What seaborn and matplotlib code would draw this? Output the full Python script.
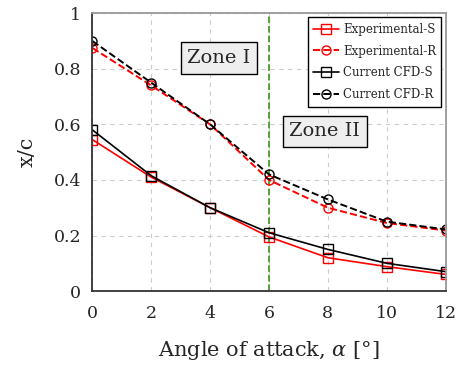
import matplotlib
matplotlib.use("Agg")
import matplotlib.pyplot as plt
import seaborn as sns
import numpy as np
import pandas as pd
from matplotlib.ticker import MultipleLocator

# data
alpha = [0, 2, 4, 6, 8, 10, 12]
exp_s = [0.545, 0.41, 0.30, 0.195, 0.12, 0.088, 0.06]
exp_r = [0.875, 0.74, 0.60, 0.40, 0.30, 0.245, 0.218]
cfd_s = [0.58, 0.415, 0.30, 0.21, 0.15, 0.10, 0.07]
cfd_r = [0.90, 0.75, 0.60, 0.42, 0.33, 0.25, 0.222]

sns.set_style("white")
plt.rcParams['font.family'] = ['DejaVu Serif']
plt.rcParams['mathtext.fontset'] = 'dejavuserif'

fig, ax = plt.subplots(figsize=(4.74, 3.79), dpi=100)

series = [
    ("Experimental-S", exp_s, "red", "-", "s"),
    ("Experimental-R", exp_r, "red", "--", "o"),
    ("Current CFD-S", cfd_s, "black", "-", "s"),
    ("Current CFD-R", cfd_r, "black", "--", "o"),
]
for name, vals, col, ls, mk in series:
    sns.lineplot(x=alpha, y=vals, ax=ax, color=col, linestyle=ls, marker=mk,
                 markersize=6.5, markerfacecolor="none", markeredgecolor=col,
                 markeredgewidth=1.0, linewidth=1.2 if ls == "-" else 1.4,
                 label=name)

ax.axvline(6, color="#4a9a2a", linestyle="--", linewidth=1.3, zorder=1)

ax.set_xlim(0, 12)
ax.set_ylim(0, 1)
ax.xaxis.set_major_locator(MultipleLocator(2))
ax.yaxis.set_minor_locator(MultipleLocator(0.05))
ax.set_yticks([0, 0.2, 0.4, 0.6, 0.8, 1.0])
ax.set_yticklabels(["0", "0.2", "0.4", "0.6", "0.8", "1"])
ax.tick_params(axis="both", which="major", direction="in", length=6, labelsize=12.5, width=1)
ax.tick_params(axis="y", which="minor", direction="in", length=3, width=0.8)
ax.tick_params(axis="x", which="major", pad=10)
ax.tick_params(axis="y", which="major", pad=8)
ax.grid(True, linestyle=(0, (4, 4)), color="#cccccc", linewidth=0.8)

for side in ["top", "right"]:
    ax.spines[side].set_color("#999999")
for side in ["left", "bottom"]:
    ax.spines[side].set_color("#333333")
for sp in ax.spines.values():
    sp.set_linewidth(1.3)

ax.set_xlabel(r"Angle of attack, $\alpha$ [°]", fontsize=15, labelpad=12)
ax.set_ylabel("x/c", fontsize=15, labelpad=12)

box = dict(boxstyle="square,pad=0.35", facecolor="#eeeeee", edgecolor="black", linewidth=1)
ax.text(4.3, 0.84, "Zone I", fontsize=14, ha="center", va="center", bbox=box)
ax.text(7.9, 0.575, "Zone II", fontsize=14, ha="center", va="center", bbox=box)

leg = ax.legend(loc="upper right", fontsize=8.5, frameon=True, fancybox=False,
                edgecolor="black", framealpha=1, handlelength=2.2,
                borderpad=0.45, labelspacing=0.75, handletextpad=0.3,
                borderaxespad=0.35)
leg.get_frame().set_linewidth(1.0)

fig.subplots_adjust(left=0.195, right=0.94, top=0.965, bottom=0.232)
fig.savefig("out.png", dpi=100)
